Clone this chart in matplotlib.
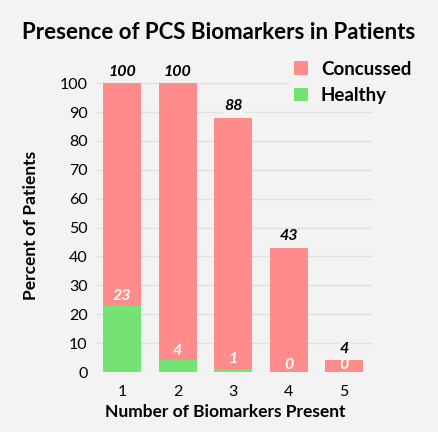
import matplotlib.pyplot as plt
import numpy as np

plt.rcParams['font.family'] = ['Lato', 'DejaVu Sans']

biomarkers = [1, 2, 3, 4, 5]
concussed = [100, 100, 88, 43, 4]
healthy = [23, 4, 1, 0, 0]

bg = '#f3f3f3'
red = '#ff8b8b'
green = '#74e374'

fig = plt.figure(figsize=(4.38, 4.32), dpi=100, facecolor=bg)
ax = fig.add_axes([96 / 438, 60 / 432, 276 / 438, 312 / 432])
ax.set_facecolor(bg)

x = np.array(biomarkers)
ax.bar(x, concussed, width=0.685, color=red, label='Concussed', zorder=2)
ax.bar(x, healthy, width=0.685, color=green, label='Healthy', zorder=3)

# labels above the concussed bars, boxed in the background colour
for xi, c in zip(x, concussed):
    ax.text(xi, c + 1.5, str(c), ha='center', va='bottom', fontsize=11.5,
            fontweight='bold', fontstyle='italic', color='black', zorder=4,
            bbox=dict(facecolor=bg, edgecolor='none', pad=0.5))
# white labels just above the healthy bars
for xi, h in zip(x, healthy):
    off = 1.0 if h > 0 else 0.1
    ax.text(xi, h + off, str(h), ha='center', va='bottom', fontsize=11.5,
            fontweight='bold', fontstyle='italic', color='white', zorder=5)

ax.set_xlim(0.53, 5.5)
ax.set_ylim(0, 108)
ax.set_yticks(range(0, 101, 10))
ax.set_xticks(x)
ax.tick_params(length=0, labelsize=11.5)
ax.tick_params(axis='y', pad=6)
ax.tick_params(axis='x', pad=9)
ax.grid(axis='y', color='#e2e2e2', linewidth=1, zorder=0)
for s in ax.spines.values():
    s.set_visible(False)

ax.set_xlabel('Number of Biomarkers Present', fontsize=12.5, fontweight='bold', va='center')
ax.xaxis.set_label_coords(0.467, -0.128)
ax.set_ylabel('Percent of Patients', fontsize=12.5, fontweight='bold', va='center')
ax.yaxis.set_label_coords(-0.235, 0.471)
fig.suptitle('Presence of PCS Biomarkers in Patients', fontsize=16, fontweight='bold', y=0.948)

leg = ax.legend(loc='upper right', bbox_to_anchor=(1.19, 1.04), frameon=True, fontsize=13.5,
                handlelength=0.75, handleheight=0.75, handletextpad=0.7, labelspacing=0.5,
                borderpad=0.2)
leg.get_frame().set_facecolor(bg)
leg.get_frame().set_edgecolor(bg)
leg.get_frame().set_alpha(1)
for t in leg.get_texts():
    t.set_fontweight('bold')

plt.savefig('out.png', dpi=100, facecolor=bg)
